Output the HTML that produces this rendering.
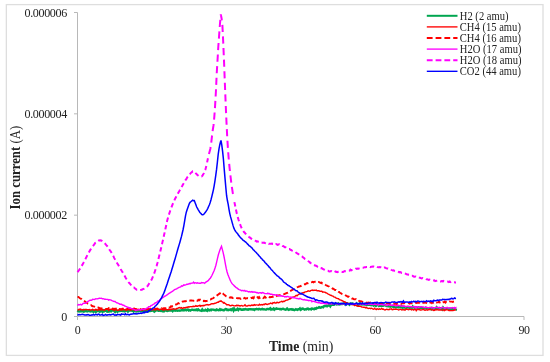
<!DOCTYPE html>
<html><head><meta charset="utf-8"><title>Ion current</title>
<style>html,body{margin:0;padding:0;background:#fff;}svg{display:block;filter:blur(0.3px);}text{font-family:"Liberation Serif",serif;fill:#222;}</style></head><body>
<svg width="550" height="362" viewBox="0 0 550 362">
<rect x="0" y="0" width="550" height="362" fill="#fff"/>
<rect x="6.35" y="4.6" width="536.65" height="350.8" fill="#fff" stroke="#dedede" stroke-width="1.3"/>
<g stroke="#b8b8b8" stroke-width="1" fill="none">
<line x1="77.5" y1="12.5" x2="77.5" y2="316.5"/>
<line x1="77.5" y1="316.5" x2="524.0" y2="316.5"/>
<line x1="74.0" y1="316.50" x2="77.5" y2="316.50"/>
<line x1="74.0" y1="215.17" x2="77.5" y2="215.17"/>
<line x1="74.0" y1="113.83" x2="77.5" y2="113.83"/>
<line x1="74.0" y1="12.50" x2="77.5" y2="12.50"/>
<line x1="77.50" y1="316.5" x2="77.50" y2="320.0"/>
<line x1="226.33" y1="316.5" x2="226.33" y2="320.0"/>
<line x1="375.17" y1="316.5" x2="375.17" y2="320.0"/>
<line x1="524.00" y1="316.5" x2="524.00" y2="320.0"/>
</g>
<g font-size="13" text-anchor="end" letter-spacing="-0.41">
<text transform="translate(66.8,320.5) scale(0.93,1)">0</text>
<text transform="translate(66.8,219.2) scale(0.93,1)">0.000002</text>
<text transform="translate(66.8,117.8) scale(0.93,1)">0.000004</text>
<text transform="translate(66.8,16.5) scale(0.93,1)">0.000006</text>
</g>
<g font-size="13" text-anchor="middle" letter-spacing="-0.41">
<text transform="translate(77.5,333.5) scale(0.92,1)">0</text>
<text transform="translate(226.3,333.5) scale(0.92,1)">30</text>
<text transform="translate(375.2,333.5) scale(0.92,1)">60</text>
<text transform="translate(524.0,333.5) scale(0.92,1)">90</text>
</g>
<text transform="translate(301.1,350.6) scale(0.984,1)" font-size="14" text-anchor="middle"><tspan font-weight="bold">Time</tspan> (min)</text>
<text transform="translate(19.7,167.6) rotate(-90) scale(0.935,1)" font-size="13.7" text-anchor="middle"><tspan font-weight="bold">Ion current</tspan> (A)</text>
<g fill="none" stroke-linejoin="miter" stroke-miterlimit="3">
<path d="M77.5 312.0 L78.3 311.1 L79.1 311.3 L79.9 311.5 L80.7 311.0 L81.5 311.3 L82.3 311.3 L83.1 310.5 L83.9 311.7 L84.7 311.5 L85.5 311.0 L86.3 311.2 L87.1 311.5 L87.9 311.1 L88.7 311.1 L89.5 310.6 L90.3 311.5 L91.1 311.3 L91.9 311.3 L92.7 310.6 L93.5 311.9 L94.3 311.3 L95.1 311.0 L95.9 312.0 L96.7 311.2 L97.5 310.6 L98.3 311.0 L99.1 310.2 L99.9 311.6 L100.7 311.0 L101.5 310.8 L102.3 311.6 L103.1 310.4 L103.9 311.3 L104.7 310.3 L105.5 310.8 L106.3 310.6 L107.1 311.7 L107.9 311.8 L108.7 310.9 L109.5 311.4 L110.3 311.0 L111.1 311.3 L111.9 310.7 L112.7 310.3 L113.5 310.3 L114.3 311.2 L115.1 312.0 L115.9 311.1 L116.7 310.8 L117.5 311.8 L118.3 311.1 L119.1 311.0 L119.9 311.1 L120.7 310.9 L121.5 310.8 L122.3 310.4 L123.1 311.2 L123.9 310.9 L124.7 311.4 L125.5 310.8 L126.3 310.1 L127.1 310.9 L127.9 311.6 L128.7 310.8 L129.5 310.5 L130.3 310.4 L131.1 310.5 L131.9 310.8 L132.7 310.4 L133.5 311.5 L134.3 310.7 L135.1 310.9 L135.9 311.4 L136.7 311.5 L137.5 310.7 L138.3 311.0 L139.1 311.1 L139.9 310.7 L140.7 310.1 L141.5 311.1 L142.3 311.2 L143.1 310.9 L143.9 310.4 L144.7 310.7 L145.5 310.5 L146.3 310.6 L147.1 311.3 L147.9 311.4 L148.7 311.0 L149.5 310.9 L150.3 311.0 L151.1 310.7 L151.9 310.7 L152.7 310.4 L153.5 310.6 L154.3 311.6 L155.1 311.0 L155.9 310.5 L156.7 310.4 L157.5 310.3 L158.3 310.8 L159.1 310.8 L159.9 310.0 L160.7 310.8 L161.5 310.4 L162.3 311.2 L163.1 310.6 L163.9 311.3 L164.7 310.4 L165.5 310.4 L166.3 310.7 L167.1 311.0 L167.9 310.8 L168.7 310.0 L169.5 310.6 L170.3 310.5 L171.1 310.3 L171.9 310.2 L172.7 311.2 L173.5 310.3 L174.3 310.1 L175.1 310.7 L175.9 310.5 L176.7 310.4 L177.5 310.7 L178.3 310.6 L179.1 310.5 L179.9 310.8 L180.7 310.5 L181.5 310.1 L182.3 310.2 L183.1 310.1 L183.9 310.4 L184.7 309.9 L185.5 309.6 L186.3 310.3 L187.1 309.7 L187.9 309.5 L188.7 310.4 L189.5 310.0 L190.3 310.5 L191.1 310.0 L191.9 309.8 L192.7 309.7 L193.5 310.0 L194.3 310.1 L195.1 309.8 L195.9 310.1 L196.7 309.5 L197.5 310.2 L198.3 309.4 L199.1 310.1 L199.9 310.4 L200.7 310.6 L201.5 310.8 L202.3 309.4 L203.1 310.4 L203.9 310.6 L204.7 310.5 L205.5 309.7 L206.3 310.2 L207.1 310.8 L207.9 309.4 L208.7 310.2 L209.5 310.4 L210.3 309.7 L211.1 310.2 L211.9 309.5 L212.7 309.6 L213.5 309.6 L214.3 310.0 L215.1 309.9 L215.9 310.3 L216.7 309.5 L217.5 309.8 L218.3 310.3 L219.1 310.1 L219.9 309.3 L220.7 310.1 L221.5 309.6 L222.3 310.0 L223.1 309.9 L223.9 310.3 L224.7 309.8 L225.5 309.0 L226.3 309.2 L227.1 310.0 L227.9 309.6 L228.7 310.2 L229.5 309.8 L230.3 309.4 L231.1 310.1 L231.9 309.3 L232.7 308.8 L233.5 310.5 L234.3 308.8 L235.1 309.9 L235.9 310.0 L236.7 309.7 L237.5 308.9 L238.3 310.0 L239.1 309.0 L239.9 309.0 L240.7 309.4 L241.5 309.8 L242.3 309.6 L243.1 309.8 L243.9 309.3 L244.7 309.4 L245.5 309.0 L246.3 309.3 L247.1 309.7 L247.9 309.3 L248.7 309.6 L249.5 309.1 L250.3 309.1 L251.1 309.4 L251.9 309.2 L252.7 309.6 L253.5 309.4 L254.3 310.0 L255.1 309.2 L255.9 309.2 L256.7 308.8 L257.5 309.2 L258.3 309.5 L259.1 308.9 L259.9 309.2 L260.7 309.5 L261.5 309.1 L262.3 308.9 L263.1 309.5 L263.9 309.2 L264.7 309.3 L265.5 309.6 L266.3 309.6 L267.1 308.9 L267.9 308.9 L268.7 309.2 L269.5 309.0 L270.3 308.3 L271.1 309.6 L271.9 309.0 L272.7 309.3 L273.5 308.5 L274.3 309.6 L275.1 308.8 L275.9 309.0 L276.7 308.4 L277.5 308.9 L278.3 308.9 L279.1 308.9 L279.9 309.2 L280.7 309.0 L281.5 309.4 L282.3 308.8 L283.1 308.7 L283.9 309.1 L284.7 309.4 L285.5 309.7 L286.3 309.5 L287.1 308.5 L287.9 309.4 L288.7 309.9 L289.5 309.4 L290.3 309.2 L291.1 309.5 L291.9 309.2 L292.7 309.7 L293.5 309.5 L294.3 310.1 L295.1 309.7 L295.9 309.2 L296.7 309.7 L297.5 309.9 L298.3 309.2 L299.1 309.3 L299.9 308.5 L300.7 309.8 L301.5 309.2 L302.3 308.5 L303.1 308.6 L303.9 309.2 L304.7 309.6 L305.5 309.2 L306.3 309.4 L307.1 308.7 L307.9 308.6 L308.7 309.4 L309.5 309.2 L310.3 309.0 L311.1 309.4 L311.9 308.5 L312.7 308.6 L313.5 309.0 L314.3 309.2 L315.1 308.4 L315.9 308.8 L316.7 307.9 L317.5 308.1 L318.3 307.7 L319.1 307.1 L319.9 307.6 L320.7 307.7 L321.5 307.2 L322.3 307.0 L323.1 307.3 L323.9 306.2 L324.7 305.9 L325.5 306.0 L326.3 305.7 L327.1 306.3 L327.9 305.8 L328.7 305.2 L329.5 305.2 L330.3 306.3 L331.1 304.9 L331.9 304.7 L332.7 304.9 L333.5 304.9 L334.3 304.6 L335.1 304.1 L335.9 303.9 L336.7 304.4 L337.5 304.1 L338.3 303.4 L339.1 304.5 L339.9 304.3 L340.7 303.9 L341.5 303.9 L342.3 304.1 L343.1 303.7 L343.9 303.4 L344.7 304.1 L345.5 303.4 L346.3 304.2 L347.1 303.4 L347.9 304.0 L348.7 303.9 L349.5 304.7 L350.3 303.6 L351.1 303.4 L351.9 303.7 L352.7 303.5 L353.5 303.8 L354.3 304.2 L355.1 304.3 L355.9 304.7 L356.7 303.7 L357.5 305.1 L358.3 304.9 L359.1 304.1 L359.9 303.3 L360.7 304.2 L361.5 304.4 L362.3 303.5 L363.1 304.5 L363.9 304.4 L364.7 304.3 L365.5 304.9 L366.3 305.1 L367.1 304.6 L367.9 304.9 L368.7 304.7 L369.5 304.7 L370.3 305.0 L371.1 305.3 L371.9 304.9 L372.7 304.3 L373.5 305.4 L374.3 304.6 L375.1 305.3 L375.9 306.0 L376.7 305.3 L377.5 304.9 L378.3 304.9 L379.1 305.9 L379.9 305.5 L380.7 305.8 L381.5 306.0 L382.3 305.7 L383.1 305.7 L383.9 305.5 L384.7 304.7 L385.5 305.4 L386.3 306.0 L387.1 306.0 L387.9 306.3 L388.7 306.2 L389.5 306.4 L390.3 306.7 L391.1 306.1 L391.9 306.4 L392.7 305.9 L393.5 307.0 L394.3 306.7 L395.1 306.9 L395.9 307.4 L396.7 307.2 L397.5 306.8 L398.3 307.2 L399.1 306.4 L399.9 307.2 L400.7 307.1 L401.5 306.4 L402.3 307.7 L403.1 306.9 L403.9 307.5 L404.7 307.1 L405.5 307.7 L406.3 307.9 L407.1 307.0 L407.9 306.8 L408.7 307.4 L409.5 307.8 L410.3 307.4 L411.1 307.3 L411.9 307.8 L412.7 306.5 L413.5 307.4 L414.3 307.1 L415.1 307.8 L415.9 307.5 L416.7 307.3 L417.5 307.7 L418.3 307.3 L419.1 307.9 L419.9 307.6 L420.7 307.8 L421.5 307.7 L422.3 308.4 L423.1 308.0 L423.9 308.3 L424.7 308.3 L425.5 307.8 L426.3 308.4 L427.1 308.3 L427.9 308.3 L428.7 308.1 L429.5 308.1 L430.3 308.6 L431.1 309.2 L431.9 308.0 L432.7 308.6 L433.5 308.3 L434.3 308.8 L435.1 308.7 L435.9 308.9 L436.7 307.4 L437.5 308.3 L438.3 308.2 L439.1 308.6 L439.9 308.3 L440.7 308.4 L441.5 308.9 L442.3 309.5 L443.1 307.6 L443.9 308.6 L444.7 308.9 L445.5 308.8 L446.3 308.7 L447.1 308.3 L447.9 308.5 L448.7 309.2 L449.5 309.3 L450.3 308.9 L451.1 308.6 L451.9 309.0 L452.7 308.8 L453.5 309.2 L454.3 309.0 L455.1 308.7 L455.9 309.1 L456.0 308.5" stroke="#00a650" stroke-width="2.4"/>
<path d="M77.5 309.8 L78.3 309.9 L79.1 309.1 L79.9 309.7 L80.7 309.2 L81.5 309.9 L82.3 309.9 L83.1 309.5 L83.9 310.0 L84.7 309.5 L85.5 309.4 L86.3 309.5 L87.1 309.6 L87.9 309.6 L88.7 309.8 L89.5 309.5 L90.3 310.0 L91.1 310.1 L91.9 309.6 L92.7 309.3 L93.5 310.0 L94.3 310.2 L95.1 309.7 L95.9 309.3 L96.7 309.9 L97.5 310.3 L98.3 309.1 L99.1 310.0 L99.9 309.7 L100.7 309.5 L101.5 310.0 L102.3 309.3 L103.1 309.9 L103.9 310.3 L104.7 309.9 L105.5 309.5 L106.3 309.2 L107.1 309.4 L107.9 309.2 L108.7 310.4 L109.5 309.7 L110.3 309.4 L111.1 309.3 L111.9 309.4 L112.7 309.7 L113.5 309.4 L114.3 310.4 L115.1 309.5 L115.9 309.5 L116.7 309.9 L117.5 310.3 L118.3 310.3 L119.1 309.6 L119.9 309.9 L120.7 309.9 L121.5 310.0 L122.3 309.9 L123.1 309.5 L123.9 309.4 L124.7 309.9 L125.5 309.4 L126.3 310.3 L127.1 309.8 L127.9 309.4 L128.7 309.7 L129.5 309.6 L130.3 309.8 L131.1 310.1 L131.9 309.3 L132.7 309.1 L133.5 309.9 L134.3 309.7 L135.1 309.8 L135.9 309.9 L136.7 309.7 L137.5 310.0 L138.3 309.4 L139.1 309.7 L139.9 309.4 L140.7 309.3 L141.5 309.9 L142.3 309.8 L143.1 309.0 L143.9 309.2 L144.7 309.7 L145.5 309.9 L146.3 309.3 L147.1 309.5 L147.9 309.0 L148.7 310.4 L149.5 309.7 L150.3 309.8 L151.1 309.7 L151.9 309.8 L152.7 309.7 L153.5 309.3 L154.3 309.7 L155.1 309.5 L155.9 309.9 L156.7 309.2 L157.5 309.2 L158.3 309.7 L159.1 309.9 L159.9 309.5 L160.7 309.2 L161.5 309.4 L162.3 309.2 L163.1 310.1 L163.9 309.7 L164.7 309.8 L165.5 309.5 L166.3 309.2 L167.1 309.8 L167.9 309.9 L168.7 309.5 L169.5 309.3 L170.3 309.7 L171.1 309.1 L171.9 309.5 L172.7 308.9 L173.5 308.7 L174.3 309.1 L175.1 309.0 L175.9 309.3 L176.7 308.5 L177.5 308.5 L178.3 308.0 L179.1 307.7 L179.9 307.6 L180.7 308.2 L181.5 307.6 L182.3 308.2 L183.1 308.2 L183.9 307.5 L184.7 308.0 L185.5 307.5 L186.3 307.6 L187.1 307.1 L187.9 307.4 L188.7 306.7 L189.5 307.0 L190.3 306.6 L191.1 306.6 L191.9 306.7 L192.7 306.5 L193.5 306.3 L194.3 306.5 L195.1 306.4 L195.9 305.7 L196.7 306.2 L197.5 306.2 L198.3 305.7 L199.1 306.0 L199.9 305.3 L200.7 306.2 L201.5 305.6 L202.3 305.5 L203.1 305.9 L203.9 305.3 L204.7 305.5 L205.5 304.9 L206.3 304.9 L207.1 304.5 L207.9 304.8 L208.7 305.0 L209.5 304.6 L210.3 304.6 L211.1 303.9 L211.9 303.8 L212.7 303.7 L213.5 303.8 L214.3 303.5 L215.1 303.2 L215.9 303.1 L216.7 302.6 L217.5 302.3 L218.3 302.3 L219.1 301.5 L219.9 301.3 L220.7 301.3 L221.0 300.8 L221.8 301.6 L222.6 301.9 L223.4 303.0 L224.2 302.6 L225.0 303.3 L225.8 303.7 L226.6 304.7 L227.4 304.7 L228.2 304.8 L229.0 304.9 L229.8 305.6 L230.6 305.7 L231.4 305.5 L232.2 305.3 L233.0 305.4 L233.8 305.9 L234.6 305.9 L235.4 305.8 L236.2 305.7 L237.0 305.2 L237.8 305.8 L238.6 305.4 L239.4 305.8 L240.2 306.0 L241.0 305.6 L241.8 305.4 L242.6 306.1 L243.4 305.9 L244.2 305.6 L245.0 304.8 L245.8 305.8 L246.6 306.0 L247.4 306.1 L248.2 305.5 L249.0 305.4 L249.8 305.5 L250.6 305.8 L251.4 305.1 L252.2 305.4 L253.0 305.0 L253.8 305.4 L254.6 304.7 L255.4 305.3 L256.2 304.9 L257.0 304.9 L257.8 305.1 L258.6 305.2 L259.4 304.2 L260.2 305.0 L261.0 304.8 L261.8 304.5 L262.6 304.9 L263.4 304.4 L264.2 304.7 L265.0 304.0 L265.8 303.8 L266.6 304.4 L267.4 304.6 L268.2 304.0 L269.0 304.0 L269.8 303.5 L270.6 303.1 L271.4 303.4 L272.2 303.8 L273.0 302.7 L273.8 303.0 L274.6 302.4 L275.4 303.0 L276.2 303.1 L277.0 302.3 L277.8 302.5 L278.6 302.8 L279.4 302.3 L280.2 301.8 L281.0 301.6 L281.8 301.3 L282.6 301.8 L283.4 301.2 L284.2 301.4 L285.0 301.0 L285.8 300.4 L286.6 300.1 L287.4 300.1 L288.2 299.6 L289.0 299.3 L289.8 298.5 L290.6 298.7 L291.4 297.8 L292.2 297.1 L293.0 297.1 L293.8 296.9 L294.6 296.9 L295.4 295.9 L296.2 295.3 L297.0 295.8 L297.8 295.0 L298.6 294.5 L299.4 294.0 L300.2 293.7 L301.0 294.0 L301.8 293.2 L302.6 292.8 L303.4 292.5 L304.2 292.8 L305.0 291.9 L305.8 291.9 L306.6 291.6 L307.4 291.4 L308.2 290.8 L309.0 291.1 L309.8 291.3 L310.6 290.6 L311.4 290.3 L312.2 290.0 L313.0 290.4 L313.8 290.2 L314.6 290.3 L315.4 290.4 L316.2 290.0 L317.0 290.8 L317.8 290.7 L318.6 290.8 L319.4 291.0 L320.2 291.4 L321.0 291.3 L321.8 291.3 L322.6 292.1 L323.4 291.9 L324.2 292.1 L325.0 292.2 L325.8 292.9 L326.6 293.0 L327.4 293.5 L328.2 294.1 L329.0 294.4 L329.8 295.0 L330.6 295.3 L331.4 295.5 L332.2 295.9 L333.0 296.2 L333.8 296.9 L334.6 297.1 L335.4 297.4 L336.2 298.1 L337.0 298.3 L337.8 298.6 L338.6 298.7 L339.4 299.6 L340.2 299.9 L341.0 300.2 L341.8 300.5 L342.6 300.8 L343.4 301.3 L344.2 301.8 L345.0 302.0 L345.8 302.4 L346.6 302.6 L347.4 303.1 L348.2 303.4 L349.0 303.4 L349.8 304.1 L350.6 304.3 L351.4 304.6 L352.2 304.6 L353.0 304.8 L353.8 304.8 L354.6 305.5 L355.4 304.9 L356.2 305.6 L357.0 305.8 L357.8 306.3 L358.6 306.3 L359.4 306.2 L360.2 306.2 L361.0 306.6 L361.8 307.0 L362.6 307.1 L363.4 307.2 L364.2 307.2 L365.0 307.5 L365.8 308.0 L366.6 307.6 L367.4 308.0 L368.2 308.6 L369.0 308.4 L369.8 308.2 L370.6 308.6 L371.4 308.2 L372.2 308.5 L373.0 309.1 L373.8 309.3 L374.6 308.2 L375.4 309.0 L376.2 309.5 L377.0 308.7 L377.8 309.0 L378.6 309.5 L379.4 308.8 L380.2 309.2 L381.0 309.1 L381.8 308.5 L382.6 309.3 L383.4 309.1 L384.2 309.6 L385.0 310.0 L385.8 309.6 L386.6 309.2 L387.4 309.5 L388.2 309.5 L389.0 309.8 L389.8 309.0 L390.6 309.1 L391.4 308.8 L392.2 309.7 L393.0 309.5 L393.8 309.3 L394.6 309.3 L395.4 309.3 L396.2 309.2 L397.0 309.4 L397.8 309.4 L398.6 310.0 L399.4 309.7 L400.2 309.3 L401.0 309.4 L401.8 310.0 L402.6 309.7 L403.4 309.7 L404.2 309.8 L405.0 310.1 L405.8 309.2 L406.6 309.3 L407.4 309.0 L408.2 309.8 L409.0 309.5 L409.8 309.4 L410.6 309.3 L411.4 309.9 L412.2 309.6 L413.0 309.4 L413.8 310.1 L414.6 309.3 L415.4 309.2 L416.2 310.6 L417.0 309.5 L417.8 309.5 L418.6 309.4 L419.4 309.6 L420.2 310.0 L421.0 310.0 L421.8 309.9 L422.6 309.6 L423.4 309.2 L424.2 309.8 L425.0 310.3 L425.8 310.1 L426.6 309.7 L427.4 310.1 L428.2 309.7 L429.0 309.8 L429.8 309.4 L430.6 309.7 L431.4 309.9 L432.2 309.8 L433.0 310.1 L433.8 310.5 L434.6 310.3 L435.4 309.8 L436.2 309.7 L437.0 309.7 L437.8 309.6 L438.6 310.0 L439.4 310.1 L440.2 310.0 L441.0 310.1 L441.8 310.1 L442.6 310.0 L443.4 309.8 L444.2 310.7 L445.0 310.4 L445.8 309.8 L446.6 309.8 L447.4 309.9 L448.2 310.1 L449.0 310.6 L449.8 310.5 L450.6 310.6 L451.4 310.6 L452.2 310.6 L453.0 310.5 L453.8 310.4 L454.6 310.2 L455.4 309.7 L456.0 310.3" stroke="#ff0000" stroke-width="1.4"/>
<path d="M77.5 296.9 L78.3 297.0 L79.1 297.5 L79.9 298.3 L80.7 298.7 L81.5 299.1 L82.3 300.0 L83.1 300.4 L83.9 300.9 L84.7 301.3 L85.5 302.0 L86.3 302.5 L87.1 303.1 L87.9 303.7 L88.7 304.1 L89.5 304.4 L90.3 305.0 L91.1 305.1 L91.9 305.9 L92.7 306.3 L93.5 306.4 L94.3 306.6 L95.1 307.0 L95.9 306.9 L96.7 307.5 L97.5 307.6 L98.3 307.5 L99.1 307.9 L99.9 308.3 L100.7 308.4 L101.5 308.5 L102.3 308.3 L103.1 308.3 L103.9 308.3 L104.7 308.7 L105.5 309.2 L106.3 309.0 L107.1 309.0 L107.9 309.0 L108.7 308.2 L109.5 308.6 L110.3 308.6 L111.1 309.1 L111.9 309.2 L112.7 308.5 L113.5 308.8 L114.3 308.9 L115.1 308.6 L115.9 308.6 L116.7 308.6 L117.5 309.1 L118.3 308.6 L119.1 309.2 L119.9 308.9 L120.7 309.1 L121.5 309.4 L122.3 308.7 L123.1 308.7 L123.9 309.1 L124.7 308.6 L125.5 308.7 L126.3 308.9 L127.1 309.0 L127.9 308.6 L128.7 308.9 L129.5 309.2 L130.3 309.4 L131.1 308.4 L131.9 309.4 L132.7 309.3 L133.5 308.7 L134.3 308.6 L135.1 309.2 L135.9 309.0 L136.7 309.1 L137.5 309.4 L138.3 309.0 L139.1 309.2 L139.9 309.3 L140.7 309.4 L141.5 309.7 L142.3 309.7 L143.1 309.2 L143.9 309.1 L144.7 309.9 L145.5 309.4 L146.3 309.3 L147.1 308.9 L147.9 309.4 L148.7 309.0 L149.5 309.1 L150.3 308.8 L151.1 309.0 L151.9 309.2 L152.7 308.7 L153.5 308.9 L154.3 309.1 L155.1 308.7 L155.9 308.7 L156.7 308.8 L157.5 308.6 L158.3 309.1 L159.1 308.6 L159.9 309.0 L160.7 309.0 L161.5 308.4 L162.3 308.6 L163.1 308.4 L163.9 308.1 L164.7 308.2 L165.5 308.1 L166.3 308.2 L167.1 308.2 L167.9 307.5 L168.7 307.5 L169.5 307.5 L170.3 307.4 L171.1 306.3 L171.9 306.7 L172.7 306.0 L173.5 305.9 L174.3 305.1 L175.1 304.6 L175.9 304.5 L176.7 304.4 L177.5 303.8 L178.3 303.0 L179.1 303.3 L179.9 302.5 L180.7 302.3 L181.5 302.0 L182.3 301.6 L183.1 301.5 L183.9 301.4 L184.7 301.2 L185.5 301.2 L186.3 300.9 L187.1 300.4 L187.9 300.6 L188.7 300.8 L189.5 300.7 L190.3 300.4 L191.1 300.5 L191.9 300.5 L192.7 300.6 L193.5 300.7 L194.3 300.1 L195.1 300.1 L195.9 300.7 L196.7 300.7 L197.5 300.8 L198.3 299.8 L199.1 300.4 L199.9 299.7 L200.7 300.8 L201.5 300.7 L202.3 300.8 L203.1 300.8 L203.9 301.2 L204.7 300.8 L205.5 301.2 L206.3 301.0 L207.1 300.8 L207.9 300.5 L208.7 300.2 L209.5 299.6 L210.3 299.6 L211.1 299.2 L211.9 298.6 L212.7 298.4 L213.5 298.0 L214.3 297.1 L215.1 296.8 L215.9 296.2 L216.7 295.6 L217.5 295.2 L218.3 294.4 L219.1 293.9 L219.9 293.4 L220.7 292.7 L221.5 292.1 L222.3 293.2 L223.1 293.7 L223.9 294.6 L224.7 295.0 L225.5 295.8 L226.3 296.4 L227.1 296.7 L227.9 296.6 L228.7 296.9 L229.5 297.5 L230.3 297.3 L231.1 297.7 L231.9 297.3 L232.7 298.1 L233.5 298.0 L234.3 298.0 L235.1 297.7 L235.9 297.9 L236.7 298.1 L237.5 298.2 L238.3 298.1 L239.1 298.2 L239.9 298.3 L240.7 298.7 L241.5 297.8 L242.3 298.0 L243.1 297.9 L243.9 298.2 L244.7 297.9 L245.5 298.6 L246.3 298.4 L247.1 298.3 L247.9 298.1 L248.7 298.3 L249.5 298.2 L250.3 298.2 L251.1 297.8 L251.9 298.1 L252.7 297.5 L253.5 298.2 L254.3 296.9 L255.1 297.5 L255.9 297.3 L256.7 297.8 L257.5 297.2 L258.3 298.1 L259.1 297.1 L259.9 298.1 L260.7 297.6 L261.5 297.5 L262.3 297.6 L263.1 298.1 L263.9 297.7 L264.7 296.7 L265.5 297.7 L266.3 297.4 L267.1 296.8 L267.9 297.5 L268.7 296.9 L269.5 297.2 L270.3 297.2 L271.1 296.9 L271.9 297.1 L272.7 296.6 L273.5 296.7 L274.3 296.4 L275.1 296.3 L275.9 296.7 L276.7 296.0 L277.5 295.5 L278.3 295.6 L279.1 295.2 L279.9 295.2 L280.7 295.0 L281.5 294.8 L282.3 294.6 L283.1 294.2 L283.9 294.1 L284.7 294.0 L285.5 293.3 L286.3 293.2 L287.1 292.9 L287.9 292.8 L288.7 292.3 L289.5 291.6 L290.3 291.2 L291.1 290.5 L291.9 290.1 L292.7 289.7 L293.5 289.4 L294.3 289.0 L295.1 288.3 L295.9 287.7 L296.7 287.7 L297.5 287.2 L298.3 286.9 L299.1 286.5 L299.9 286.3 L300.7 286.0 L301.5 285.7 L302.3 285.1 L303.1 285.0 L303.9 284.4 L304.7 284.2 L305.5 284.2 L306.3 283.6 L307.1 283.0 L307.9 283.3 L308.7 283.0 L309.5 282.9 L310.3 282.5 L311.1 282.4 L311.9 282.2 L312.7 281.9 L313.5 282.4 L314.3 281.8 L315.1 281.7 L315.9 281.7 L316.7 282.3 L317.5 282.1 L318.3 281.9 L319.1 282.2 L319.9 282.5 L320.7 282.9 L321.5 282.6 L322.3 283.5 L323.1 283.5 L323.9 283.7 L324.7 284.1 L325.5 284.8 L326.3 285.4 L327.1 285.6 L327.9 286.1 L328.7 286.3 L329.5 287.0 L330.3 287.5 L331.1 287.5 L331.9 288.1 L332.7 288.8 L333.5 288.7 L334.3 289.4 L335.1 290.0 L335.9 290.0 L336.7 290.7 L337.5 291.3 L338.3 291.9 L339.1 291.9 L339.9 292.8 L340.7 293.1 L341.5 293.7 L342.3 294.1 L343.1 294.4 L343.9 294.8 L344.7 294.8 L345.5 295.3 L346.3 295.7 L347.1 296.2 L347.9 296.8 L348.7 296.6 L349.5 297.2 L350.3 297.3 L351.1 297.5 L351.9 298.5 L352.7 298.5 L353.5 299.1 L354.3 299.3 L355.1 299.1 L355.9 299.2 L356.7 300.3 L357.5 300.1 L358.3 300.2 L359.1 300.9 L359.9 301.1 L360.7 301.1 L361.5 301.4 L362.3 301.7 L363.1 301.8 L363.9 302.2 L364.7 302.0 L365.5 302.2 L366.3 302.6 L367.1 302.6 L367.9 302.9 L368.7 302.6 L369.5 302.8 L370.3 302.6 L371.1 303.4 L371.9 302.6 L372.7 303.1 L373.5 302.9 L374.3 303.3 L375.1 303.5 L375.9 302.9 L376.7 303.3 L377.5 302.9 L378.3 303.9 L379.1 303.4 L379.9 303.1 L380.7 303.3 L381.5 304.0 L382.3 304.0 L383.1 304.0 L383.9 303.4 L384.7 303.6 L385.5 304.2 L386.3 303.5 L387.1 303.6 L387.9 303.5 L388.7 303.4 L389.5 304.1 L390.3 304.0 L391.1 303.9 L391.9 304.0 L392.7 304.1 L393.5 304.2 L394.3 303.8 L395.1 303.7 L395.9 303.4 L396.7 304.0 L397.5 303.5 L398.3 303.2 L399.1 303.5 L399.9 303.6 L400.7 303.8 L401.5 303.8 L402.3 303.3 L403.1 303.2 L403.9 303.3 L404.7 303.0 L405.5 303.3 L406.3 303.4 L407.1 303.3 L407.9 302.8 L408.7 302.9 L409.5 303.5 L410.3 302.9 L411.1 303.3 L411.9 303.3 L412.7 303.0 L413.5 302.8 L414.3 303.1 L415.1 302.7 L415.9 302.9 L416.7 303.0 L417.5 302.7 L418.3 302.8 L419.1 302.8 L419.9 302.5 L420.7 302.8 L421.5 302.6 L422.3 302.3 L423.1 302.7 L423.9 302.7 L424.7 302.5 L425.5 302.1 L426.3 302.9 L427.1 302.8 L427.9 302.8 L428.7 302.7 L429.5 302.2 L430.3 302.6 L431.1 302.2 L431.9 303.1 L432.7 302.3 L433.5 302.6 L434.3 301.9 L435.1 302.0 L435.9 302.2 L436.7 302.5 L437.5 302.4 L438.3 302.3 L439.1 301.6 L439.9 302.5 L440.7 301.8 L441.5 302.5 L442.3 302.6 L443.1 302.2 L443.9 302.2 L444.7 301.6 L445.5 302.6 L446.3 301.9 L447.1 302.1 L447.9 301.5 L448.7 301.7 L449.5 301.4 L450.3 301.6 L451.1 301.6 L451.9 301.6 L452.7 301.9 L453.5 301.6 L454.3 301.5 L455.1 301.4 L455.9 301.9 L456.0 301.1" stroke="#ff0000" stroke-width="1.9" stroke-dasharray="5 2.8"/>
<path d="M77.5 305.6 L78.3 304.6 L79.1 304.7 L79.9 304.8 L80.7 304.4 L81.5 304.9 L82.3 304.5 L83.1 303.3 L83.9 303.2 L84.7 303.1 L85.5 303.2 L86.3 302.7 L87.1 302.1 L87.9 301.4 L88.7 301.1 L89.5 300.3 L90.3 300.1 L91.1 300.2 L91.9 300.0 L92.7 299.3 L93.5 299.4 L94.3 299.6 L95.1 299.1 L95.9 298.8 L96.7 298.9 L97.5 298.8 L98.3 298.6 L99.1 298.3 L99.9 298.3 L100.7 298.4 L101.5 298.2 L102.3 298.8 L103.1 298.8 L103.9 298.9 L104.7 299.3 L105.5 299.3 L106.3 299.4 L107.1 299.4 L107.9 299.4 L108.7 300.2 L109.5 299.7 L110.3 299.9 L111.1 300.1 L111.9 300.6 L112.7 300.9 L113.5 301.4 L114.3 301.5 L115.1 301.5 L115.9 302.3 L116.7 302.8 L117.5 302.9 L118.3 303.3 L119.1 303.7 L119.9 304.3 L120.7 304.3 L121.5 304.3 L122.3 304.8 L123.1 305.3 L123.9 305.2 L124.7 306.1 L125.5 306.1 L126.3 306.7 L127.1 307.0 L127.9 307.2 L128.7 307.9 L129.5 307.7 L130.3 308.0 L131.1 308.5 L131.9 308.9 L132.7 309.0 L133.5 309.1 L134.3 309.7 L135.1 309.9 L135.9 310.5 L136.7 309.9 L137.5 310.1 L138.3 309.8 L139.1 309.5 L139.9 309.9 L140.7 310.0 L141.5 309.4 L142.3 309.3 L143.1 309.1 L143.9 309.6 L144.7 308.9 L145.5 309.0 L146.3 308.4 L147.1 308.2 L147.9 307.6 L148.7 306.8 L149.5 306.8 L150.3 306.4 L151.1 305.5 L151.9 305.4 L152.7 304.8 L153.5 304.2 L154.3 303.8 L155.1 303.0 L155.9 302.8 L156.7 302.4 L157.5 301.4 L158.3 301.0 L159.1 300.7 L159.9 299.8 L160.7 299.1 L161.5 298.4 L162.3 298.0 L163.1 297.4 L163.9 297.0 L164.7 296.1 L165.5 296.1 L166.3 295.3 L167.1 295.0 L167.9 294.2 L168.7 293.6 L169.5 293.2 L170.3 292.6 L171.1 292.1 L171.9 291.7 L172.7 291.2 L173.5 290.5 L174.3 289.8 L175.1 289.4 L175.9 289.1 L176.7 288.8 L177.5 288.1 L178.3 287.8 L179.1 287.3 L179.9 287.1 L180.7 286.9 L181.5 285.8 L182.3 286.1 L183.1 285.6 L183.9 284.9 L184.7 285.2 L185.5 284.8 L186.3 284.6 L187.1 284.0 L187.9 284.5 L188.7 283.8 L189.5 283.5 L190.3 283.7 L191.1 283.2 L191.9 283.1 L192.7 283.1 L193.5 282.1 L194.3 283.2 L195.1 282.7 L195.9 282.9 L196.7 283.2 L197.5 282.8 L198.3 283.1 L199.1 283.3 L199.9 283.1 L200.7 283.2 L201.5 282.6 L202.3 282.7 L203.1 282.6 L203.9 282.8 L204.7 283.4 L205.5 282.4 L206.3 281.9 L207.1 281.4 L207.9 280.9 L208.7 280.1 L209.5 279.0 L210.3 278.2 L211.1 276.8 L211.9 275.5 L212.7 273.7 L213.5 272.0 L214.3 270.2 L215.1 267.8 L215.9 265.2 L216.7 261.9 L217.5 258.3 L218.3 255.0 L219.1 252.4 L219.9 250.1 L220.7 247.9 L221.5 246.2 L222.3 249.3 L223.1 252.4 L223.9 256.0 L224.7 260.2 L225.5 264.6 L226.3 268.7 L227.1 272.0 L227.9 274.5 L228.7 276.6 L229.5 278.4 L230.3 280.4 L231.1 282.0 L231.9 283.4 L232.7 284.3 L233.5 284.9 L234.3 285.9 L235.1 286.6 L235.9 287.4 L236.7 288.0 L237.5 288.4 L238.3 289.2 L239.1 289.6 L239.9 289.8 L240.7 290.1 L241.5 290.7 L242.3 290.5 L243.1 290.5 L243.9 291.0 L244.7 290.5 L245.5 291.3 L246.3 291.0 L247.1 291.1 L247.9 291.5 L248.7 292.0 L249.5 291.5 L250.3 292.0 L251.1 292.0 L251.9 291.6 L252.7 292.3 L253.5 292.0 L254.3 291.9 L255.1 292.2 L255.9 292.3 L256.7 292.8 L257.5 292.5 L258.3 293.2 L259.1 292.9 L259.9 292.7 L260.7 292.8 L261.5 293.2 L262.3 292.6 L263.1 292.7 L263.9 293.1 L264.7 293.6 L265.5 293.6 L266.3 293.6 L267.1 293.7 L267.9 293.2 L268.7 293.8 L269.5 293.5 L270.3 294.3 L271.1 294.2 L271.9 294.3 L272.7 294.6 L273.5 294.7 L274.3 294.8 L275.1 295.0 L275.9 294.9 L276.7 294.8 L277.5 295.4 L278.3 295.8 L279.1 295.8 L279.9 295.6 L280.7 296.0 L281.5 295.8 L282.3 296.2 L283.1 296.0 L283.9 296.3 L284.7 296.9 L285.5 296.6 L286.3 296.9 L287.1 296.4 L287.9 296.5 L288.7 296.8 L289.5 297.1 L290.3 297.0 L291.1 297.4 L291.9 297.2 L292.7 297.8 L293.5 297.9 L294.3 297.5 L295.1 298.1 L295.9 298.1 L296.7 298.6 L297.5 298.4 L298.3 298.8 L299.1 299.0 L299.9 298.3 L300.7 298.7 L301.5 299.3 L302.3 299.4 L303.1 299.8 L303.9 299.8 L304.7 299.6 L305.5 300.1 L306.3 300.0 L307.1 300.2 L307.9 300.3 L308.7 300.7 L309.5 300.4 L310.3 300.6 L311.1 300.5 L311.9 301.8 L312.7 301.2 L313.5 301.4 L314.3 301.5 L315.1 301.8 L315.9 302.0 L316.7 302.4 L317.5 302.5 L318.3 302.7 L319.1 302.5 L319.9 302.8 L320.7 303.2 L321.5 303.0 L322.3 303.2 L323.1 302.7 L323.9 303.5 L324.7 303.5 L325.5 303.9 L326.3 302.8 L327.1 303.7 L327.9 303.7 L328.7 303.8 L329.5 303.6 L330.3 303.9 L331.1 304.0 L331.9 303.9 L332.7 303.8 L333.5 303.8 L334.3 303.8 L335.1 303.9 L335.9 303.7 L336.7 303.4 L337.5 304.4 L338.3 303.5 L339.1 303.9 L339.9 303.6 L340.7 303.9 L341.5 303.7 L342.3 304.0 L343.1 303.7 L343.9 303.6 L344.7 304.1 L345.5 304.4 L346.3 304.1 L347.1 304.0 L347.9 303.7 L348.7 304.0 L349.5 304.1 L350.3 303.8 L351.1 304.3 L351.9 304.0 L352.7 304.1 L353.5 303.8 L354.3 303.8 L355.1 304.1 L355.9 304.1 L356.7 304.1 L357.5 303.7 L358.3 303.8 L359.1 304.0 L359.9 303.5 L360.7 304.3 L361.5 304.1 L362.3 304.1 L363.1 303.9 L363.9 304.3 L364.7 304.0 L365.5 304.7 L366.3 304.3 L367.1 303.7 L367.9 304.4 L368.7 304.1 L369.5 304.1 L370.3 304.2 L371.1 304.3 L371.9 304.4 L372.7 304.6 L373.5 304.5 L374.3 304.2 L375.1 304.0 L375.9 304.2 L376.7 304.6 L377.5 304.8 L378.3 305.1 L379.1 304.2 L379.9 304.6 L380.7 304.6 L381.5 304.6 L382.3 304.7 L383.1 304.7 L383.9 304.7 L384.7 304.6 L385.5 305.0 L386.3 305.2 L387.1 305.4 L387.9 304.9 L388.7 304.8 L389.5 305.1 L390.3 305.0 L391.1 305.5 L391.9 305.1 L392.7 305.4 L393.5 305.0 L394.3 305.4 L395.1 305.6 L395.9 306.0 L396.7 305.5 L397.5 305.8 L398.3 305.2 L399.1 305.5 L399.9 305.7 L400.7 305.8 L401.5 306.1 L402.3 306.3 L403.1 305.7 L403.9 306.3 L404.7 305.9 L405.5 306.8 L406.3 306.4 L407.1 306.4 L407.9 306.4 L408.7 306.5 L409.5 306.5 L410.3 306.4 L411.1 306.8 L411.9 306.7 L412.7 306.9 L413.5 306.7 L414.3 307.0 L415.1 306.6 L415.9 307.9 L416.7 306.7 L417.5 306.8 L418.3 307.3 L419.1 307.4 L419.9 306.8 L420.7 306.6 L421.5 306.7 L422.3 306.9 L423.1 307.0 L423.9 307.2 L424.7 307.6 L425.5 307.6 L426.3 307.1 L427.1 307.5 L427.9 307.6 L428.7 307.8 L429.5 307.4 L430.3 307.2 L431.1 307.7 L431.9 307.9 L432.7 307.4 L433.5 308.1 L434.3 308.1 L435.1 307.5 L435.9 307.2 L436.7 307.5 L437.5 307.5 L438.3 307.8 L439.1 307.2 L439.9 308.4 L440.7 308.4 L441.5 307.5 L442.3 307.2 L443.1 307.7 L443.9 307.9 L444.7 308.2 L445.5 308.0 L446.3 307.8 L447.1 307.3 L447.9 308.0 L448.7 308.1 L449.5 307.8 L450.3 308.0 L451.1 308.0 L451.9 307.9 L452.7 307.6 L453.5 308.1 L454.3 307.5 L455.1 308.4 L455.9 307.7 L456.0 308.1" stroke="#ff00ff" stroke-width="1.4"/>
<path d="M77.5 272.2 L78.3 271.2 L79.1 270.0 L79.9 268.9 L80.7 267.5 L81.5 266.1 L82.3 264.9 L83.1 263.6 L83.9 262.0 L84.7 260.6 L85.5 258.9 L86.3 257.3 L87.1 255.6 L87.9 254.0 L88.7 252.8 L89.5 251.2 L90.3 249.9 L91.1 248.7 L91.9 247.4 L92.7 246.2 L93.5 245.3 L94.3 244.4 L95.1 243.1 L95.9 242.7 L96.7 242.0 L97.5 241.3 L98.3 241.0 L99.1 240.4 L99.9 240.5 L100.7 240.3 L101.5 240.6 L102.3 241.3 L103.1 241.8 L103.9 242.6 L104.7 243.3 L105.5 244.1 L106.3 245.1 L107.1 246.0 L107.9 247.0 L108.7 248.2 L109.5 249.8 L110.3 250.8 L111.1 252.0 L111.9 253.5 L112.7 254.9 L113.5 256.4 L114.3 258.1 L115.1 259.6 L115.9 261.0 L116.7 262.5 L117.5 263.8 L118.3 265.1 L119.1 266.5 L119.9 267.8 L120.7 269.2 L121.5 270.5 L122.3 271.7 L123.1 273.2 L123.9 274.5 L124.7 275.9 L125.5 277.4 L126.3 278.8 L127.1 280.0 L127.9 281.3 L128.7 282.4 L129.5 283.2 L130.3 284.2 L131.1 285.1 L131.9 286.0 L132.7 286.9 L133.5 287.6 L134.3 287.7 L135.1 288.6 L135.9 289.1 L136.7 289.8 L137.5 289.8 L138.3 290.1 L139.1 289.9 L139.9 290.1 L140.7 289.9 L141.5 289.8 L142.3 289.5 L143.1 289.0 L143.9 288.9 L144.7 288.5 L145.5 288.0 L146.3 287.3 L147.1 286.6 L147.9 285.6 L148.7 284.3 L149.5 283.1 L150.3 281.7 L151.1 280.4 L151.9 279.0 L152.7 277.2 L153.5 275.3 L154.3 273.2 L155.1 270.8 L155.9 268.3 L156.7 265.7 L157.5 262.8 L158.3 259.6 L159.1 256.3 L159.9 253.1 L160.7 249.7 L161.5 246.4 L162.3 242.9 L163.1 239.4 L163.9 235.8 L164.7 232.2 L165.5 228.5 L166.3 224.8 L167.1 221.1 L167.9 218.1 L168.7 215.4 L169.5 212.8 L170.3 210.5 L171.1 208.4 L171.9 206.1 L172.7 204.1 L173.5 202.1 L174.3 200.5 L175.1 198.8 L175.9 197.2 L176.7 195.6 L177.5 194.5 L178.3 192.8 L179.1 191.4 L179.9 190.1 L180.7 188.6 L181.5 187.2 L182.3 185.8 L183.1 184.3 L183.9 183.1 L184.7 181.7 L185.5 180.1 L186.3 179.1 L187.1 177.6 L187.9 176.6 L188.7 175.3 L189.5 174.4 L190.3 173.6 L191.1 172.7 L191.9 172.2 L192.7 171.3 L193.5 171.4 L194.3 171.5 L195.1 172.5 L195.9 173.4 L196.7 174.2 L197.5 175.2 L198.3 175.5 L199.1 176.2 L199.9 176.2 L200.7 176.6 L201.5 176.6 L202.3 175.9 L203.1 174.6 L203.9 173.1 L204.7 171.2 L205.5 169.3 L206.3 166.1" stroke="#ff00ff" stroke-width="2.0" stroke-dasharray="4.5 3.1"/>
<path d="M207.1 162.4 L207.9 158.5 L208.7 155.0 L209.5 152.0 L210.3 149.0 L211.1 144.2 L211.9 136.8 L212.7 130.5 L213.5 125.4 L214.3 117.1 L215.1 105.6 L215.9 91.7 L216.7 73.9 L217.5 60.8 L218.3 46.7 L219.1 35.7 L219.9 24.8 L220.7 15.5 L220.8 14.4 L221.6 18.5 L222.4 25.4 L223.2 41.7 L224.0 60.6 L224.8 81.7 L225.6 102.1 L226.4 120.4 L227.2 136.7 L228.0 149.8 L228.8 159.8 L229.6 168.1 L230.4 175.4 L231.2 182.1 L232.0 187.9 L232.8 193.1 L233.6 197.7" stroke="#ff00ff" stroke-width="2.0" stroke-dasharray="7.2 4.4" stroke-dashoffset="3"/>
<path d="M234.4 202.1 L235.2 206.0 L236.0 209.8 L236.8 213.4 L237.6 216.5 L238.4 219.3 L239.2 221.8 L240.0 224.1 L240.8 226.2 L241.6 228.1 L242.4 229.5 L243.2 230.7 L244.0 232.1 L244.8 232.8 L245.6 233.8 L246.4 234.5 L247.2 235.0 L248.0 235.9 L248.8 236.7 L249.6 237.4 L250.4 237.9 L251.2 238.6 L252.0 239.2 L252.8 239.7 L253.6 240.0 L254.4 240.4 L255.2 240.7 L256.0 240.9 L256.8 241.6 L257.6 241.3 L258.4 241.8 L259.2 242.0 L260.0 241.8 L260.8 242.5 L261.6 242.5 L262.4 242.7 L263.2 242.7 L264.0 242.6 L264.8 243.1 L265.6 243.2 L266.4 243.5 L267.2 243.4 L268.0 243.0 L268.8 243.7 L269.6 243.7 L270.4 243.8 L271.2 243.8 L272.0 243.6 L272.8 244.0 L273.6 243.9 L274.4 244.7 L275.2 244.1 L276.0 244.0 L276.8 244.3 L277.6 244.8 L278.4 244.5 L279.2 244.3 L280.0 245.3 L280.8 245.4 L281.6 245.5 L282.4 246.1 L283.2 246.1 L284.0 246.5 L284.8 247.2 L285.6 247.3 L286.4 247.9 L287.2 248.1 L288.0 248.6 L288.8 248.9 L289.6 248.9 L290.4 249.8 L291.2 250.0 L292.0 250.6 L292.8 250.9 L293.6 251.5 L294.4 251.7 L295.2 251.8 L296.0 252.6 L296.8 253.2 L297.6 253.6 L298.4 254.1 L299.2 254.9 L300.0 255.2 L300.8 255.9 L301.6 256.3 L302.4 256.7 L303.2 257.4 L304.0 258.1 L304.8 258.8 L305.6 259.2 L306.4 259.7 L307.2 260.4 L308.0 261.0 L308.8 261.5 L309.6 262.1 L310.4 263.0 L311.2 263.2 L312.0 263.5 L312.8 264.2 L313.6 264.9 L314.4 265.2 L315.2 265.5 L316.0 265.8 L316.8 266.1 L317.6 266.8 L318.4 267.2 L319.2 267.3 L320.0 267.7 L320.8 268.2 L321.6 268.1 L322.4 268.6 L323.2 269.2 L324.0 269.6 L324.8 269.8 L325.6 270.2 L326.4 270.6 L327.2 270.7 L328.0 270.7 L328.8 271.3 L329.6 271.4 L330.4 271.3 L331.2 271.0 L332.0 271.4 L332.8 270.9 L333.6 271.4 L334.4 271.0 L335.2 271.5 L336.0 271.9 L336.8 271.7 L337.6 272.2 L338.4 271.8 L339.2 271.8 L340.0 271.7 L340.8 271.9 L341.6 271.7 L342.4 271.9 L343.2 271.9 L344.0 271.5 L344.8 271.0 L345.6 271.2 L346.4 271.2 L347.2 270.9 L348.0 270.7 L348.8 270.7 L349.6 270.6 L350.4 269.6 L351.2 270.3 L352.0 270.0 L352.8 269.8 L353.6 269.4 L354.4 269.4 L355.2 269.2 L356.0 268.6 L356.8 268.9 L357.6 268.6 L358.4 268.7 L359.2 268.4 L360.0 268.1 L360.8 268.0 L361.6 268.0 L362.4 267.8 L363.2 267.8 L364.0 267.4 L364.8 267.2 L365.6 267.2 L366.4 267.0 L367.2 267.0 L368.0 267.2 L368.8 266.7 L369.6 266.7 L370.4 267.1 L371.2 266.7 L372.0 266.8 L372.8 266.5 L373.6 266.6 L374.4 266.8 L375.2 267.2 L376.0 267.0 L376.8 266.6 L377.6 267.1 L378.4 267.3 L379.2 267.3 L380.0 267.0 L380.8 267.3 L381.6 267.9 L382.4 267.3 L383.2 267.7 L384.0 267.6 L384.8 267.6 L385.6 267.9 L386.4 268.4 L387.2 268.6 L388.0 268.5 L388.8 268.8 L389.6 269.0 L390.4 269.0 L391.2 269.8 L392.0 270.2 L392.8 270.5 L393.6 270.3 L394.4 270.9 L395.2 271.1 L396.0 271.0 L396.8 271.3 L397.6 271.5 L398.4 271.8 L399.2 272.4 L400.0 272.1 L400.8 272.2 L401.6 272.9 L402.4 272.9 L403.2 272.8 L404.0 273.2 L404.8 273.5 L405.6 273.7 L406.4 274.1 L407.2 274.5 L408.0 274.5 L408.8 274.8 L409.6 274.9 L410.4 275.5 L411.2 275.8 L412.0 275.7 L412.8 275.9 L413.6 276.6 L414.4 276.7 L415.2 276.5 L416.0 276.6 L416.8 277.1 L417.6 277.6 L418.4 277.4 L419.2 277.6 L420.0 277.8 L420.8 278.2 L421.6 278.5 L422.4 278.1 L423.2 278.5 L424.0 278.6 L424.8 278.7 L425.6 278.7 L426.4 279.3 L427.2 279.3 L428.0 279.6 L428.8 279.9 L429.6 279.6 L430.4 280.0 L431.2 279.9 L432.0 280.2 L432.8 280.4 L433.6 280.4 L434.4 280.3 L435.2 281.1 L436.0 280.9 L436.8 280.7 L437.6 280.5 L438.4 281.1 L439.2 281.3 L440.0 281.4 L440.8 281.5 L441.6 281.1 L442.4 281.4 L443.2 280.9 L444.0 281.4 L444.8 281.6 L445.6 281.3 L446.4 281.4 L447.2 281.5 L448.0 281.6 L448.8 282.0 L449.6 281.5 L450.4 282.1 L451.2 281.6 L452.0 281.8 L452.8 281.9 L453.6 282.2 L454.4 282.2 L455.2 282.5 L456.0 282.5" stroke="#ff00ff" stroke-width="2.0" stroke-dasharray="4.5 3.1"/>
<path d="M77.5 315.3 L78.3 314.7 L79.1 314.5 L79.9 314.7 L80.7 314.8 L81.5 314.6 L82.3 314.3 L83.1 314.4 L83.9 314.7 L84.7 315.0 L85.5 314.9 L86.3 314.7 L87.1 314.9 L87.9 314.6 L88.7 314.8 L89.5 315.3 L90.3 315.2 L91.1 315.3 L91.9 314.7 L92.7 314.9 L93.5 314.5 L94.3 315.1 L95.1 314.7 L95.9 314.4 L96.7 314.7 L97.5 314.9 L98.3 314.1 L99.1 314.3 L99.9 315.2 L100.7 314.9 L101.5 314.8 L102.3 314.3 L103.1 315.4 L103.9 315.2 L104.7 315.1 L105.5 314.4 L106.3 315.0 L107.1 315.2 L107.9 314.7 L108.7 314.7 L109.5 314.6 L110.3 315.0 L111.1 314.7 L111.9 314.6 L112.7 314.2 L113.5 314.1 L114.3 315.0 L115.1 315.2 L115.9 314.9 L116.7 315.1 L117.5 314.4 L118.3 314.6 L119.1 314.7 L119.9 314.5 L120.7 315.1 L121.5 314.0 L122.3 314.3 L123.1 314.3 L123.9 314.2 L124.7 314.7 L125.5 313.7 L126.3 314.7 L127.1 314.6 L127.9 314.4 L128.7 314.7 L129.5 315.0 L130.3 314.2 L131.1 314.3 L131.9 314.1 L132.7 314.1 L133.5 313.7 L134.3 313.6 L135.1 313.9 L135.9 313.5 L136.7 313.9 L137.5 313.7 L138.3 313.3 L139.1 313.4 L139.9 313.3 L140.7 313.1 L141.5 313.4 L142.3 312.9 L143.1 312.9 L143.9 312.1 L144.7 312.7 L145.5 311.9 L146.3 311.9 L147.1 312.1 L147.9 311.8 L148.7 310.9 L149.5 310.3 L150.3 310.1 L151.1 309.5 L151.9 309.1 L152.7 308.1 L153.5 308.0 L154.3 307.5 L155.1 306.2 L155.9 305.6 L156.7 304.8 L157.5 304.0 L158.3 302.6 L159.1 301.8 L159.9 300.5 L160.7 299.1 L161.5 298.0 L162.3 296.2 L163.1 294.7 L163.9 292.9 L164.7 290.9 L165.5 288.6 L166.3 286.3 L167.1 284.0 L167.9 281.5 L168.7 279.1 L169.5 276.7 L170.3 274.3 L171.1 272.0 L171.9 269.2 L172.7 266.7 L173.5 264.0 L174.3 261.3 L175.1 258.7 L175.9 255.9 L176.7 253.1 L177.5 250.3 L178.3 247.5 L179.1 244.9 L179.9 242.2 L180.7 239.3 L181.5 236.4 L182.3 233.0 L183.1 229.5 L183.9 225.3 L184.7 220.6 L185.5 215.8 L186.3 212.2 L187.1 209.8 L187.9 207.4 L188.7 205.2 L189.5 203.2 L190.3 202.1 L191.1 201.5 L191.9 200.8 L192.7 200.2 L193.5 200.7 L194.3 200.6 L195.1 202.7 L195.9 204.8 L196.7 207.0 L197.5 208.4 L198.3 209.8 L199.1 211.1 L199.9 212.5 L200.7 213.2 L201.5 214.1 L202.2 214.7 L203.0 214.8 L203.8 214.3 L204.6 213.2 L205.4 212.4 L206.2 211.1 L207.0 209.8 L207.8 208.3 L208.6 206.5 L209.4 204.7 L210.2 202.4 L211.0 199.7 L211.8 196.6 L212.6 193.3 L213.4 189.8 L214.2 185.6 L215.0 180.7 L215.8 175.1 L216.6 169.2 L217.4 162.0 L218.2 154.4 L219.0 148.8 L219.8 144.7 L220.6 141.5 L221.0 140.5 L221.8 145.1 L222.6 151.3 L223.4 159.0 L224.2 168.9 L225.0 178.1 L225.8 187.3 L226.6 195.7 L227.4 200.5 L228.2 204.4 L229.0 209.3 L229.8 213.6 L230.6 216.9 L231.4 219.6 L232.2 222.6 L233.0 225.4 L233.8 227.9 L234.6 229.6 L235.4 231.0 L236.2 232.1 L237.0 233.1 L237.8 234.0 L238.6 235.3 L239.4 236.3 L240.2 237.3 L241.0 238.2 L241.8 238.7 L242.6 239.8 L243.4 240.5 L244.2 240.8 L245.0 241.7 L245.8 242.2 L246.6 242.9 L247.4 243.9 L248.2 244.6 L249.0 245.6 L249.8 246.1 L250.6 246.6 L251.4 247.6 L252.2 248.0 L253.0 249.6 L253.8 250.1 L254.6 251.0 L255.4 251.8 L256.2 252.5 L257.0 253.5 L257.8 254.2 L258.6 255.2 L259.4 256.2 L260.2 256.9 L261.0 258.2 L261.8 258.7 L262.6 259.9 L263.4 260.5 L264.2 261.3 L265.0 262.5 L265.8 263.3 L266.6 264.1 L267.4 265.0 L268.2 265.8 L269.0 266.9 L269.8 267.6 L270.6 268.6 L271.4 269.8 L272.2 270.3 L273.0 271.4 L273.8 272.3 L274.6 273.1 L275.4 273.9 L276.2 274.8 L277.0 275.6 L277.8 276.2 L278.6 276.6 L279.4 277.7 L280.2 278.3 L281.0 278.9 L281.8 279.5 L282.6 280.4 L283.4 281.7 L284.2 282.4 L285.0 282.9 L285.8 283.3 L286.6 284.3 L287.4 284.7 L288.2 285.6 L289.0 285.7 L289.8 286.4 L290.6 286.8 L291.4 287.6 L292.2 287.8 L293.0 288.7 L293.8 289.0 L294.6 289.5 L295.4 290.3 L296.2 290.8 L297.0 290.8 L297.8 291.8 L298.6 292.3 L299.4 292.8 L300.2 293.6 L301.0 293.4 L301.8 294.0 L302.6 294.0 L303.4 294.5 L304.2 295.1 L305.0 295.5 L305.8 295.9 L306.6 296.5 L307.4 296.8 L308.2 297.2 L309.0 297.3 L309.8 297.7 L310.6 297.7 L311.4 298.3 L312.2 298.6 L313.0 298.6 L313.8 298.2 L314.6 299.1 L315.4 300.2 L316.2 299.8 L317.0 299.9 L317.8 300.3 L318.6 300.8 L319.4 300.8 L320.2 300.8 L321.0 300.7 L321.8 301.2 L322.6 301.1 L323.4 301.8 L324.2 302.3 L325.0 302.3 L325.8 302.0 L326.6 302.0 L327.4 302.1 L328.2 302.7 L329.0 302.9 L329.8 303.1 L330.6 303.0 L331.4 302.6 L332.2 302.5 L333.0 303.5 L333.8 303.0 L334.6 304.0 L335.4 302.8 L336.2 303.2 L337.0 303.3 L337.8 303.7 L338.6 303.9 L339.4 303.5 L340.2 304.0 L341.0 303.3 L341.8 303.6 L342.6 303.4 L343.4 303.6 L344.2 303.6 L345.0 303.9 L345.8 305.0 L346.6 303.3 L347.4 303.7 L348.2 304.0 L349.0 303.8 L349.8 304.3 L350.6 303.4 L351.4 304.1 L352.2 303.5 L353.0 304.1 L353.8 303.9 L354.6 303.9 L355.4 303.6 L356.2 303.1 L357.0 303.4 L357.8 304.0 L358.6 303.6 L359.4 303.9 L360.2 303.2 L361.0 303.8 L361.8 303.9 L362.6 302.8 L363.4 303.6 L364.2 304.1 L365.0 303.1 L365.8 303.7 L366.6 303.3 L367.4 303.6 L368.2 303.1 L369.0 303.0 L369.8 303.0 L370.6 303.0 L371.4 302.9 L372.2 302.8 L373.0 303.4 L373.8 302.8 L374.6 302.6 L375.4 302.6 L376.2 303.1 L377.0 302.1 L377.8 303.0 L378.6 303.1 L379.4 303.2 L380.2 302.6 L381.0 302.5 L381.8 302.8 L382.6 302.7 L383.4 303.1 L384.2 302.6 L385.0 302.4 L385.8 302.1 L386.6 302.4 L387.4 302.5 L388.2 302.8 L389.0 302.4 L389.8 302.8 L390.6 302.8 L391.4 302.1 L392.2 301.9 L393.0 302.0 L393.8 302.2 L394.6 301.9 L395.4 302.4 L396.2 302.4 L397.0 302.5 L397.8 302.2 L398.6 301.9 L399.4 302.2 L400.2 301.7 L401.0 302.1 L401.8 301.7 L402.6 302.4 L403.4 301.0 L404.2 302.2 L405.0 302.2 L405.8 301.9 L406.6 302.0 L407.4 301.9 L408.2 302.3 L409.0 302.4 L409.8 301.8 L410.6 302.3 L411.4 301.5 L412.2 301.9 L413.0 301.8 L413.8 301.2 L414.6 301.8 L415.4 301.4 L416.2 301.9 L417.0 301.3 L417.8 301.0 L418.6 301.1 L419.4 301.6 L420.2 301.7 L421.0 301.6 L421.8 301.3 L422.6 301.8 L423.4 301.3 L424.2 301.4 L425.0 301.7 L425.8 301.3 L426.6 300.7 L427.4 301.6 L428.2 301.3 L429.0 301.1 L429.8 301.6 L430.6 300.9 L431.4 301.2 L432.2 301.0 L433.0 301.7 L433.8 300.2 L434.6 300.7 L435.4 300.7 L436.2 300.8 L437.0 300.2 L437.8 300.1 L438.6 300.6 L439.4 300.0 L440.2 300.1 L441.0 299.9 L441.8 300.0 L442.6 299.4 L443.4 299.5 L444.2 299.6 L445.0 299.6 L445.8 299.8 L446.6 299.5 L447.4 299.5 L448.2 299.2 L449.0 299.5 L449.8 298.9 L450.6 298.9 L451.4 298.4 L452.2 298.5 L453.0 299.0 L453.8 298.6 L454.6 298.0 L455.4 298.4 L456.0 298.3" stroke="#0000ff" stroke-width="1.5"/>
</g>
<g font-size="11.6">
<line x1="426.8" y1="15.8" x2="457.5" y2="15.8" stroke="#00a650" stroke-width="2.0"/>
<text transform="translate(459.8,19.7) scale(0.913,1)">H2 (2 amu)</text>
<line x1="426.8" y1="26.9" x2="457.5" y2="26.9" stroke="#ff0000" stroke-width="1.35"/>
<text transform="translate(459.8,30.8) scale(0.913,1)">CH4 (15 amu)</text>
<line x1="426.8" y1="38.0" x2="457.5" y2="38.0" stroke="#ff0000" stroke-width="2.0" stroke-dasharray="5.8 3"/>
<text transform="translate(459.8,41.9) scale(0.913,1)">CH4 (16 amu)</text>
<line x1="426.8" y1="49.1" x2="457.5" y2="49.1" stroke="#ff00ff" stroke-width="1.35"/>
<text transform="translate(459.8,53.0) scale(0.913,1)">H2O (17 amu)</text>
<line x1="426.8" y1="60.2" x2="457.5" y2="60.2" stroke="#ff00ff" stroke-width="2.0" stroke-dasharray="5.8 3"/>
<text transform="translate(459.8,64.1) scale(0.913,1)">H2O (18 amu)</text>
<line x1="426.8" y1="71.3" x2="457.5" y2="71.3" stroke="#0000ff" stroke-width="1.35"/>
<text transform="translate(459.8,75.2) scale(0.913,1)">CO2 (44 amu)</text>
</g>
</svg></body></html>
